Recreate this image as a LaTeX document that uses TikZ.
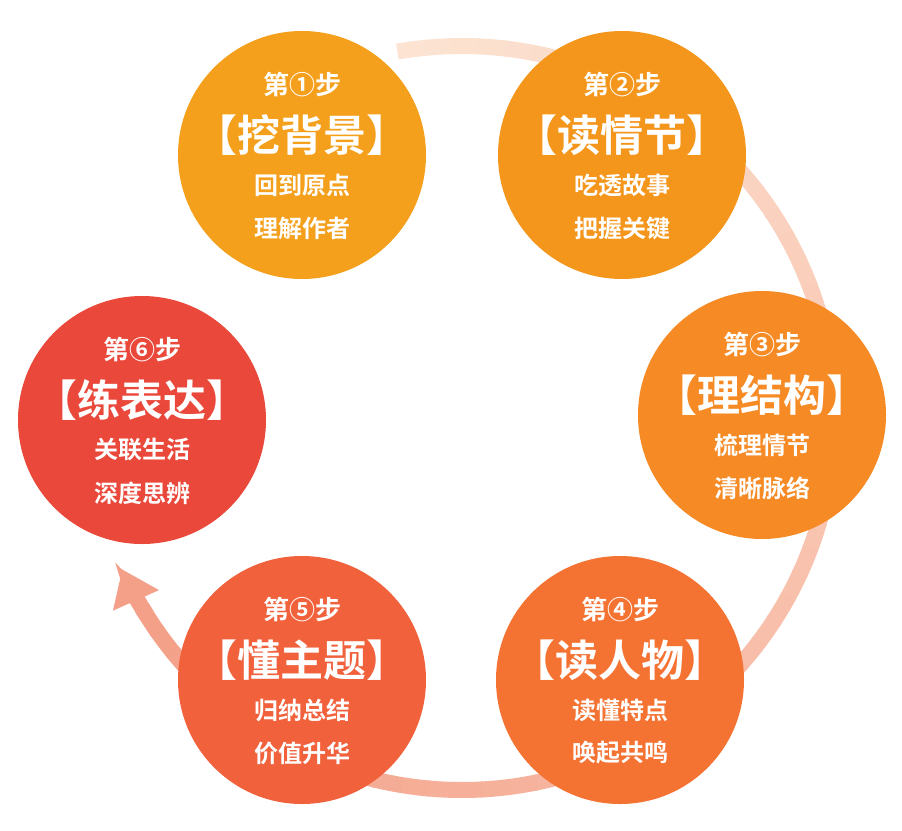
\documentclass[tikz,border=0pt]{standalone}
\usepackage{fontspec}
\setmainfont{Noto Sans CJK SC}[BoldFont={Noto Sans CJK SC Bold}]
\usetikzlibrary{arrows.meta}
\definecolor{c1}{HTML}{F4A01C}
\definecolor{c2}{HTML}{F5961C}
\definecolor{c3}{HTML}{F68A25}
\definecolor{c4}{HTML}{F57332}
\definecolor{c5}{HTML}{F1613C}
\definecolor{c6}{HTML}{E9483A}
\definecolor{ringA}{HTML}{FCE3D2}
\definecolor{ringB}{HTML}{F4A088}
\tikzset{
  stepcirc/.style={circle, minimum size=248pt, inner sep=0pt},
  ttl/.style={text=white, font=\bfseries\fontsize{26}{28}\selectfont},
  big/.style={text=white, font=\bfseries\fontsize{43}{45}\selectfont},
  sub/.style={text=white, font=\bfseries\fontsize{24}{26}\selectfont},
}
\begin{document}
\begin{tikzpicture}[x=1pt,y=-1pt]
\useasboundingbox (0,0) rectangle (902,830);
\fill[white] (0,0) rectangle (902,830);
% ring (clockwise on screen)
\foreach \i in {0,...,59}{
  \pgfmathsetmacro{\a}{-100+\i*4.15}
  \pgfmathsetmacro{\b}{-100+(\i+1)*4.15+0.3}
  \pgfmathsetmacro{\p}{\i/59*100}
  \draw[line width=16pt, color=ringB!\p!ringA] ([shift={(\a:372)}]462,418) arc[start angle=\a, end angle=\b, radius=372];
}
\draw[ringB, line width=16pt, -{Triangle[width=48pt,length=34pt]}] ([shift={(148:372)}]462,418) arc[start angle=148, end angle=156, radius=372];
% circles
\foreach \n/\x/\y/\c/\t/\s/\u/\v in {
 1/302/155/c1/{第①步}/{【挖背景】}/{回到原点}/{理解作者},
 2/622/155/c2/{第②步}/{【读情节】}/{吃透故事}/{把握关键},
 3/762/415/c3/{第③步}/{【理结构】}/{梳理情节}/{清晰脉络},
 4/620/680/c4/{第④步}/{【读人物】}/{读懂特点}/{唤起共鸣},
 5/302/680/c5/{第⑤步}/{【懂主题】}/{归纳总结}/{价值升华},
 6/142/420/c6/{第⑥步}/{【练表达】}/{关联生活}/{深度思辨}}{
  \node[stepcirc, fill=\c] (s\n) at (\x,\y) {};
  \node[ttl] (t\n) at (\x,\y-70) {\t};
  \node[big] (b\n) at (\x,\y-20) {\s};
  \node[sub] (u\n) at (\x,\y+30) {\u};
  \node[sub] (v\n) at (\x,\y+73) {\v};
}
\end{tikzpicture}
\end{document}
